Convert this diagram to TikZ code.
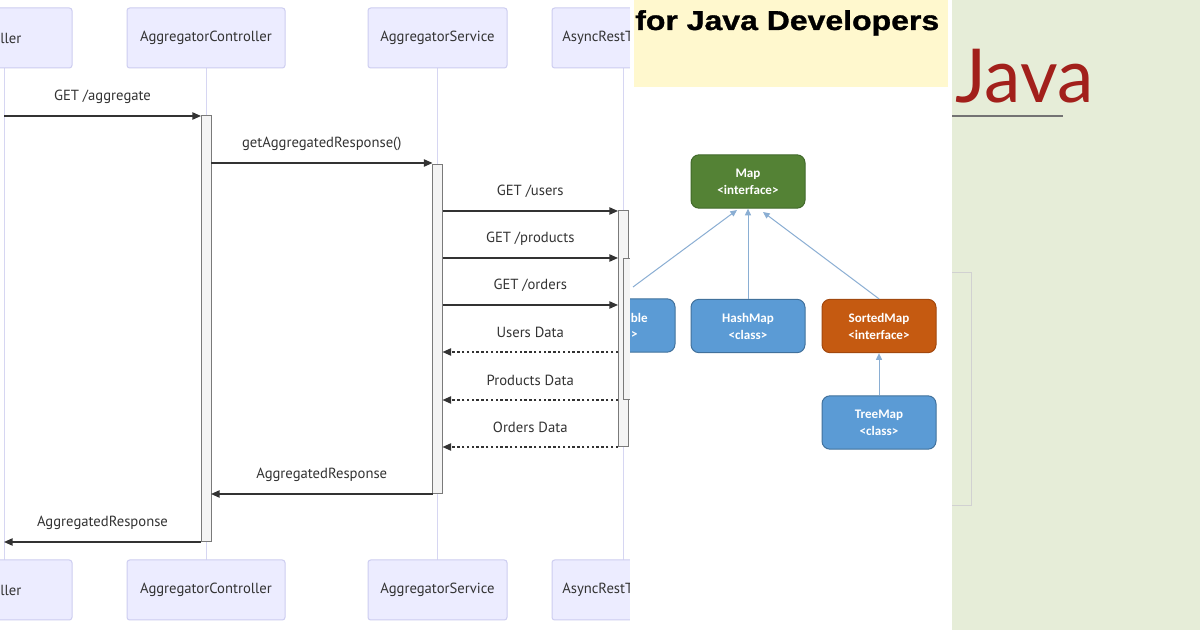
\documentclass[tikz,border=0pt]{standalone}
\usepackage{fontspec}
\usetikzlibrary{arrows.meta}
\newfontfamily\seqfont{PT Sans}
\newfontfamily\boxfont{Carlito}
\newfontfamily\headfont[FakeStretch=1.17,FakeBold=1.2]{Liberation Sans Bold}
\newfontfamily\javafont{Lato}
\definecolor{partfill}{HTML}{ECECFF}
\definecolor{partdraw}{HTML}{CDCDF0}
\definecolor{lifecol}{HTML}{D6D6F2}
\definecolor{seqtext}{HTML}{333333}
\definecolor{actfill}{HTML}{F4F4F4}
\definecolor{actdraw}{HTML}{7A7A7A}
\definecolor{yellowbg}{HTML}{FFF8CE}
\definecolor{greenbg}{HTML}{E6EDD8}
\definecolor{mapgreen}{HTML}{548235}
\definecolor{mapgreend}{HTML}{41692A}
\definecolor{mapblue}{HTML}{5B9BD5}
\definecolor{mapblued}{HTML}{41719C}
\definecolor{maporange}{HTML}{C55A11}
\definecolor{maporanged}{HTML}{A2480E}
\definecolor{inhcol}{HTML}{8AAED3}
\definecolor{javared}{HTML}{A2201B}
\begin{document}
\begin{tikzpicture}[x=0.75pt,y=-0.75pt,
  part/.style={draw=partdraw,fill=partfill,line width=0.75pt,rounded corners=2pt,minimum height=45pt,inner sep=0pt,font=\seqfont\fontsize{11}{13}\selectfont,text=seqtext},
  parttext/.style={font=\seqfont\fontsize{11}{13}\selectfont,text=seqtext,inner sep=0pt},
  life/.style={draw=lifecol,line width=0.75pt},
  act/.style={draw=actdraw,fill=actfill,line width=0.75pt},
  msg/.style={draw=seqtext,line width=1.1pt,-{Triangle[length=6.5pt,width=5.5pt]}},
  ret/.style={msg,dash pattern=on 1.8pt off 1.8pt},
  lbl/.style={font=\seqfont\fontsize{11}{13}\selectfont,text=seqtext,inner sep=0pt,midway,yshift=14.4pt},
  cls/.style={rounded corners=6pt,line width=0.75pt,minimum width=85.5pt,minimum height=40pt,inner sep=0pt,align=center,text=white,font=\boxfont\bfseries\fontsize{9.8}{12.75}\selectfont},
  clsfrag/.style={anchor=east,inner sep=0pt,text=white,font=\boxfont\bfseries\fontsize{9.8}{12}\selectfont},
  inh/.style={draw=inhcol,line width=0.75pt,-{Triangle[length=5pt,width=4.5pt]}}
]
\useasboundingbox (0,0) rectangle (1200,630);
\fill[white] (0,0) rectangle (1200,630);

% ---------- sequence diagram ----------
\draw[life] (4,68) -- (4,560);
\draw[life] (206,68) -- (206,560);
\draw[life] (437.5,68) -- (437.5,560);
\draw[life] (623,68) -- (623,560);

\node[part,minimum width=102pt] (p1t) at (4,38) {};
\node[parttext,anchor=west] (p1tl) at (0,38) {ller};
\node[part,minimum width=118.5pt] (p2t) at (206,38) {AggregatorController};
\node[part,minimum width=104.25pt] (p3t) at (437.5,38) {AggregatorService};
\node[part,minimum width=106.5pt] (p4t) at (623,38) {};
\node[parttext,anchor=west] (p4tl) at (562,38) {AsyncRestT};

\node[part,minimum width=102pt] (p1b) at (4,590) {};
\node[parttext,anchor=west] (p1bl) at (0,590) {ller};
\node[part,minimum width=118.5pt] (p2b) at (206,590) {AggregatorController};
\node[part,minimum width=104.25pt] (p3b) at (437.5,590) {AggregatorService};
\node[part,minimum width=106.5pt] (p4b) at (623,590) {};
\node[parttext,anchor=west] (p4bl) at (562,590) {AsyncRestT};

% activations
\draw[act] (201,116) rectangle (211,542);
\draw[act] (432.5,165) rectangle (442.5,494);
\draw[act] (618,211) rectangle (628,447);
\draw[act] (623,259) rectangle (633,400);

% message end points
\coordinate (a1) at (4,116);   \coordinate (b1) at (201,116);
\coordinate (a2) at (211,163); \coordinate (b2) at (432.5,163);
\coordinate (a3) at (442.5,211); \coordinate (b3) at (618,211);
\coordinate (a4) at (442.5,258); \coordinate (b4) at (618,258);
\coordinate (a5) at (442.5,305); \coordinate (b5) at (618,305);
\coordinate (a6) at (618,352); \coordinate (b6) at (442.5,352);
\coordinate (a7) at (618,400); \coordinate (b7) at (442.5,400);
\coordinate (a8) at (618,447); \coordinate (b8) at (442.5,447);
\coordinate (a9) at (432.5,494); \coordinate (b9) at (211,494);
\coordinate (a10) at (201,542); \coordinate (b10) at (4,542);

\draw[msg] (a1) -- node[lbl] {GET /aggregate} (b1);
\draw[msg] (a2) -- node[lbl] {getAggregatedResponse()} (b2);
\draw[msg] (a3) -- node[lbl] {GET /users} (b3);
\draw[msg] (a4) -- node[lbl] {GET /products} (b4);
\draw[msg] (a5) -- node[lbl] {GET /orders} (b5);
\draw[ret] (a6) -- node[lbl] {Users Data} (b6);
\draw[ret] (a7) -- node[lbl] {Products Data} (b7);
\draw[ret] (a8) -- node[lbl] {Orders Data} (b8);
\draw[msg] (a9) -- node[lbl] {AggregatedResponse} (b9);
\draw[msg] (a10) -- node[lbl] {AggregatedResponse} (b10);

% ---------- right panel ----------
\fill[greenbg] (952,0) rectangle (1200,630);
\draw[black!18,line width=0.75pt] (952,273) -- (971,273) -- (971,506) -- (952,506);
\node[anchor=base west,inner sep=0pt,text=javared] (java) at (955,103)
  {\resizebox{103.5pt}{40pt}{\javafont Java}};
\draw[black!55,line width=1.4pt] (952,116) -- (1063,116);

% ---------- middle panel ----------
\fill[white] (630,0) rectangle (952,630);
\fill[yellowbg] (634,0) rectangle (948,87);
\node[anchor=base west,inner sep=0pt,font=\headfont\fontsize{20.5}{24}\selectfont] (head) at (635,30) {for Java Developers};

\begin{scope}
\clip (630,0) rectangle (952,630);
\node[cls,fill=mapblue,draw=mapblued] (htab) at (618,325.5) {};
\end{scope}
\node[clsfrag] (htab1) at (648,318) {ble};
\node[clsfrag] (htab2) at (638,335) {>};

\node[cls,fill=mapgreen,draw=mapgreend] (map) at (748,181.5) {Map\\<interface>};
\node[cls,fill=mapblue,draw=mapblued] (hash) at (748,326) {HashMap\\<class>};
\node[cls,fill=maporange,draw=maporanged] (sorted) at (879,326) {SortedMap\\<interface>};
\node[cls,fill=mapblue,draw=mapblued] (tree) at (879,422.5) {TreeMap\\<class>};

\coordinate (htabtop) at (633,287);
\coordinate (mapL) at (737,210);
\coordinate (mapR) at (763,212);
\draw[inh] (htabtop) -- (mapL);
\draw[inh] (hash.north) -- (map.south);
\draw[inh] (sorted.north) -- (mapR);
\draw[inh] (tree.north) -- (sorted.south);
\end{tikzpicture}
\end{document}
